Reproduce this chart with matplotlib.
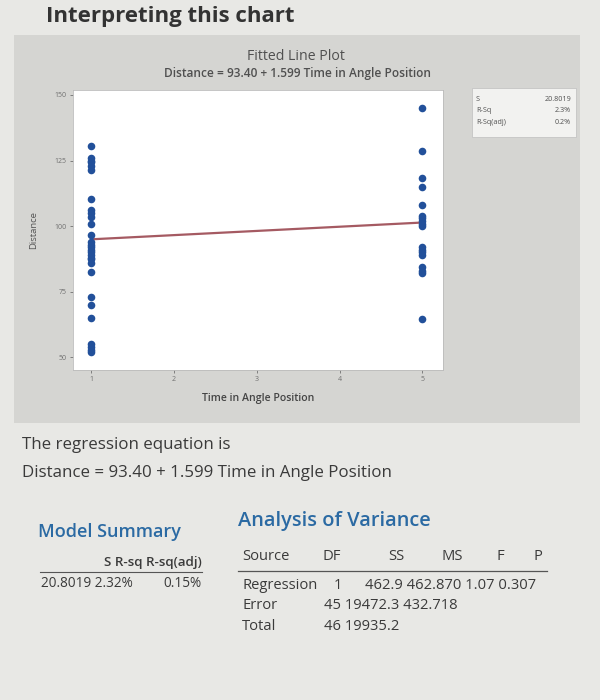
import matplotlib
matplotlib.use("Agg")
import matplotlib.pyplot as plt
from matplotlib.patches import Rectangle
import numpy as np

# ---- data ----
time_group1 = [1] * 29
distance_group1 = [130.5, 126, 125, 124.5, 123, 121.5, 110.5, 106, 105, 103.5,
                   101, 96.5, 94, 93, 92, 91, 90, 89, 88, 87.5, 86, 82.5,
                   73, 70, 65, 55, 54, 53, 52]
time_group5 = [5] * 18
distance_group5 = [145, 128.5, 118.5, 115, 108, 104, 103, 102, 101, 100,
                   92, 91, 90, 89, 84.5, 83, 82, 64.5]
intercept = 93.40
slope = 1.599
x_ticks = [1, 2, 3, 4, 5]
y_ticks = [50, 75, 100, 125, 150]
fit_stats_labels = ["S", "R-Sq", "R-Sq(adj)"]
fit_stats_values = ["20.8019", "2.3%", "0.2%"]
model_summary_header = "S R-sq R-sq(adj)"
model_summary_values = ["20.8019 2.32%", "0.15%"]
anova_header = ["Source", "DF", "SS", "MS", "F", "P"]
anova_rows = [
    ["Regression", "1", "462.9", "462.870", "1.07", "0.307"],
    ["Error", "45", "19472.3", "432.718", "", ""],
    ["Total", "46", "19935.2", "", "", ""],
]

W, H = 600, 700
plt.rcParams['font.family'] = ['Open Sans', 'DejaVu Sans']
fig = plt.figure(figsize=(6, 7), dpi=100)
fig.patch.set_facecolor("#e8e8e5")

def fx(px):
    return px / W

def fy(py):
    return 1 - py / H

TXT = "#3a3a3a"
BLUE = "#2b6aa3"

# chart panel background
fig.add_artist(Rectangle((fx(14), fy(423)), fx(580) - fx(14), fy(35) - fy(423),
                         transform=fig.transFigure, facecolor="#d5d5d2",
                         edgecolor="none", zorder=-5))

# page title
fig.text(fx(46), fy(22), "Interpreting this chart", fontsize=16, fontweight="bold",
         color="#333333", ha="left", va="baseline")

# chart titles
fig.text(fx(296), fy(60), "Fitted Line Plot", fontsize=10.2, color="#505050",
         ha="center", va="baseline")
fig.text(fx(297), fy(77), "Distance = %.2f + %.3f Time in Angle Position" % (intercept, slope),
         fontsize=8.6, color="#505050", ha="center", va="baseline", fontweight="semibold")

# axes
ax = fig.add_axes([fx(73), fy(370), fx(443) - fx(73), fy(90) - fy(370)])
ax.set_zorder(2)
ax.set_facecolor("white")
pt_color = "#22509a"
ax.scatter(time_group1, distance_group1, s=30, color=pt_color, zorder=3, linewidths=0)
ax.scatter(time_group5, distance_group5, s=30, color=pt_color, zorder=3, linewidths=0)
xf = np.array([1, 5])
ax.plot(xf, intercept + slope * xf, color="#a55a62", lw=1.6, zorder=2)
ax.set_xlim(0.78, 5.25)
ax.set_ylim(45.2, 151.9)
ax.set_xticks(x_ticks)
ax.set_yticks(y_ticks)
ax.tick_params(labelsize=5, colors="#707070", length=2.5, width=0.6, pad=2)
for sp in ax.spines.values():
    sp.set_color("#bbbbbb")
    sp.set_linewidth(0.6)
ax.set_xlabel("Time in Angle Position", fontsize=7.6, color="#444444",
              fontweight="semibold", labelpad=7)
ax.set_ylabel("Distance", fontsize=6.8, color="#555555", labelpad=12)

# stats box
fig.add_artist(Rectangle((fx(472), fy(137)), fx(576) - fx(472), fy(88) - fy(137),
                         transform=fig.transFigure, facecolor="#f2f2f0",
                         edgecolor="#c4c4c4", linewidth=0.6, zorder=1))
for i, (lab, val) in enumerate(zip(fit_stats_labels, fit_stats_values)):
    yy = fy(101 + i * 11.5)
    fig.text(fx(476), yy, lab, fontsize=5.2, color="#505050", ha="left", va="baseline", zorder=3)
    fig.text(fx(571), yy, val, fontsize=5.2, color="#505050", ha="right", va="baseline", zorder=3)

# regression equation text
fig.text(fx(22), fy(449), "The regression equation is", fontsize=12.2, color=TXT,
         ha="left", va="baseline")
fig.text(fx(22), fy(477), "Distance = %.2f + %.3f Time in Angle Position" % (intercept, slope),
         fontsize=12.2, color=TXT, ha="left", va="baseline")

# Model summary
fig.text(fx(38), fy(537), "Model Summary", fontsize=13, color=BLUE,
         fontweight="semibold", ha="left", va="baseline")
fig.text(fx(202), fy(566), model_summary_header, fontsize=9.6, color=TXT,
         fontweight="semibold", ha="right", va="baseline")
fig.add_artist(plt.Line2D([fx(40), fx(202)], [fy(572), fy(572)], color="#555555", lw=0.8))
fig.text(fx(41), fy(587), model_summary_values[0], fontsize=9.8, color=TXT,
         ha="left", va="baseline")
fig.text(fx(201), fy(587), model_summary_values[1], fontsize=9.8, color=TXT,
         ha="right", va="baseline")

# Analysis of variance
fig.text(fx(238), fy(526), "Analysis of Variance", fontsize=14.4, color=BLUE,
         fontweight="semibold", ha="left", va="baseline")
hdr_x = [242, 332, 396, 452, 500, 538]
for i, (h, xx) in enumerate(zip(anova_header, hdr_x)):
    fig.text(fx(xx), fy(560), h, fontsize=10.6, color=TXT,
             ha="left" if i == 0 else "center", va="baseline")
fig.add_artist(plt.Line2D([fx(238), fx(547)], [fy(571), fy(571)], color="#555555", lw=0.9))
row_y = [589, 609, 630]
for r, yy in zip(anova_rows, row_y):
    fig.text(fx(242), fy(yy), r[0], fontsize=10.6, color=TXT, ha="left", va="baseline")
    rest = [v for v in r[1:] if v]
    if r[0] == "Regression":
        fig.text(fx(338), fy(yy), r[1], fontsize=10.6, color=TXT, ha="center", va="baseline")
        fig.text(fx(365), fy(yy), " ".join(r[2:]), fontsize=10.6, color=TXT,
                 ha="left", va="baseline")
    else:
        fig.text(fx(324), fy(yy), " ".join(rest), fontsize=10.6, color=TXT,
                 ha="left", va="baseline")

fig.savefig("out.png", dpi=100, facecolor=fig.get_facecolor())
